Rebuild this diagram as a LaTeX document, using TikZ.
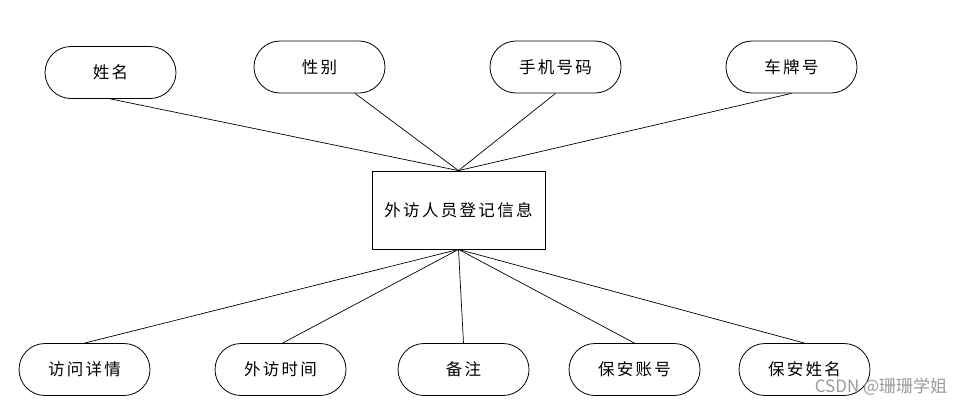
\documentclass[tikz,border=0pt]{standalone}
\usepackage{fontspec}
\setmainfont{Noto Sans CJK SC}
\newfontfamily\cnwide[LetterSpace=14]{Noto Sans CJK SC}
\usetikzlibrary{shapes.misc}

\begin{document}
\begin{tikzpicture}[x=1pt,y=-1pt,
  attr/.style={draw,rounded rectangle,line width=0.8pt,minimum width=131pt,minimum height=52pt,inner sep=0pt,font=\cnwide\fontsize{16.5}{18}\selectfont},
  entity/.style={draw,rectangle,line width=0.8pt,minimum width=173pt,minimum height=78pt,inner sep=0pt,font=\cnwide\fontsize{16.5}{18}\selectfont},
  link/.style={line width=0.7pt}]
\useasboundingbox (0,0) rectangle (965,405);
% entity
\node[entity] (visit) at (458.5,210) {外访人员登记信息};
% attributes above
\node[attr] (name) at (110.5,72.5) {姓名};
\node[attr] (sex) at (319.5,67) {性别};
\node[attr] (phone) at (555.5,67) {手机号码};
\node[attr] (plate) at (791.5,67) {车牌号};
% attributes below
\node[attr] (detail) at (84.5,369.5) {访问详情};
\node[attr] (vtime) at (280.5,369.5) {外访时间};
\node[attr] (note) at (463.5,369.5) {备注};
\node[attr] (gid) at (634.5,369.5) {保安账号};
\node[attr] (gname) at (804.5,369.5) {保安姓名};
% links
\draw[link] (visit.north) -- (name.south);
\draw[link] (visit.north) -- ([xshift=35.5pt]sex.south);
\draw[link] (visit.north) -- (phone.south);
\draw[link] (visit.north) -- (plate.south);
\draw[link] (visit.south) -- (detail.north);
\draw[link] (visit.south) -- ([xshift=2pt]vtime.north);
\draw[link] (visit.south) -- (note.north);
\draw[link] (visit.south) -- (gid.north);
\draw[link] (visit.south) -- (gname.north);
% watermark
\node[text=black!40,font=\fontsize{17}{19}\selectfont,inner sep=0pt] (mark) at (881,387) {CSDN @珊珊学姐};
\end{tikzpicture}
\end{document}
